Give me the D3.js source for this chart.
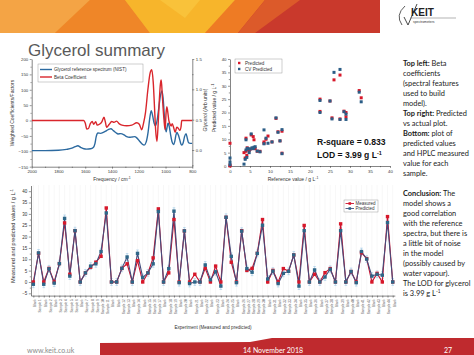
<!DOCTYPE html>
<html><head><meta charset="utf-8">
<script src="https://cdn.jsdelivr.net/npm/d3@7"></script>
<style>
html,body{margin:0;padding:0;background:#fff;}
svg{display:block;}
</style></head>
<body>
<svg id="c" width="474" height="355"></svg>
<script>
// ---------- DATA ----------
// Top-left: glycerol reference spectrum (right axis, arb units) and beta coefficients (left axis)
const glycerolSpectrum = [[2000,-0.01],[1900,-0.01],[1800,-0.005],[1740,0.01],[1700,0.03],[1675,0.055],[1655,0.07],[1635,0.045],[1610,0.02],[1590,0.015],[1560,0.02],[1540,0.04],[1528,0.1],[1518,0.22],[1505,0.28],[1485,0.275],[1465,0.29],[1440,0.32],[1420,0.345],[1408,0.35],[1390,0.32],[1370,0.285],[1355,0.265],[1335,0.27],[1310,0.25],[1290,0.22],[1270,0.21],[1250,0.215],[1230,0.22],[1215,0.2],[1195,0.15],[1175,0.1],[1160,0.08],[1145,0.13],[1130,0.3],[1118,0.52],[1107,0.65],[1095,0.55],[1085,0.44],[1075,0.4],[1062,0.5],[1050,0.7],[1038,0.9],[1027,0.975],[1018,0.85],[1010,0.6],[1002,0.38],[995,0.3],[988,0.38],[982,0.44],[977,0.43],[970,0.36],[962,0.25],[952,0.14],[940,0.09],[930,0.15],[922,0.25],[915,0.29],[905,0.25],[895,0.18],[885,0.1],[877,0.08],[868,0.12],[858,0.22],[847,0.27],[838,0.2],[828,0.12],[815,0.11],[800,0.11]];
const betaCoefficient = [[2000,0],[1700,0],[1612,0],[1600,-8],[1588,-28],[1576,-26],[1562,-10],[1548,-3],[1537,-12],[1522,-4],[1510,-15],[1494,-12],[1476,-4],[1460,11],[1450,-4],[1440,-22],[1422,-13],[1402,-3],[1385,-6],[1366,-2],[1345,-11],[1326,-15],[1290,-17],[1252,-15],[1215,-7],[1196,-12],[1178,-30],[1165,-10],[1150,25],[1132,100],[1115,155],[1103,165],[1092,125],[1082,40],[1074,-30],[1064,-68],[1055,-10],[1046,70],[1038,120],[1032,132],[1024,80],[1012,5],[1003,-30],[996,25],[990,45],[984,30],[975,0],[966,-12],[958,-18],[950,-10],[940,-22],[928,-38],[916,-22],[905,-25],[893,-32],[884,-20],[879,0],[800,0]];
const leftTicks = [-150,-100,-50,0,50,100,150,200];
const rightTicks = [0,0.5,1.0,1.5];
const freqTicks = [2000,1800,1600,1400,1200,1000,800];

// Top-right: predicted vs reference
const scatterRef  = [0,0,0,3.5,3.8,4,4,4.2,4.3,4.5,4.8,5,5.3,5.5,5.8,6,6.3,6.8,7.5,8.5,8.5,9,9.5,10.5,11.5,12,12.5,13,13,22.5,22.5,25,25.5,26,27.5,27.5,28.5,29,29,32.3,32.8];
const scatterPred = [8.5,0,0.3,5,3,10.4,5.5,4,6.8,6.2,5.8,6.3,11.6,6.5,11,9.8,6.5,5.5,5.5,8.5,9,10,11.2,9,17.8,12.8,9.4,13,4.8,25,20.4,24.3,18,32.2,34,17.6,20.5,20,18.4,28.2,25.5];
const scatterCV   = [0.5,3,1.5,0.7,2.5,9.8,6,3.2,6.6,6.5,5,6.3,12,6.8,6.5,7,7.2,5.6,5.3,13.5,8.3,10.4,8.5,9,18,12.6,9.4,13.6,4.6,24.5,20,24.3,17.6,35,36.1,17.4,20.3,19.4,17.4,27.6,24];
const scatterTicks = [0,5,10,15,20,25,30,35,40];

// Bottom: measured and predicted per experiment
const experiments = ["Blank","Sample 1","Blank","Sample 2","Blank","Sample 3","Sample 4","Sample 5","Sample 6","Blank","Sample 7","Sample 8","Sample 9","Sample 10","Sample 11","Blank","Blank","Sample 12","Sample 13","Blank","Sample 14","Blank","Sample 15","Sample 16","Sample 17","Blank","Sample 18","Sample 19","Blank","Sample 20","Blank","Sample 21","Blank","Sample 22","Blank","Sample 23","Blank","Sample 24","Sample 25","Blank","Sample 26","Sample 27","Sample 28","Sample 29","Sample 30","Blank","Sample 31","Blank","Sample 32","Sample 33","Sample 34","Blank","Sample 35","Blank","Sample 36","Blank","Sample 37","Sample 38","Blank","Sample 39","Blank","Sample 40","Blank","Sample 41","Sample 42","Blank","Sample 43","Blank","Sample 44","Blank"];
const measured  = [0,12.6,0,6,0,8.1,26,3.4,22.6,0,4,6.5,8.7,11.3,32.6,0,0,6,8,0,9.4,0,4,10.6,32.2,0,4,27.5,0,22.5,0,3.4,0,6,0,7,0,28.5,8.7,0,22.6,5.1,6,12.6,27.5,0,5.1,0,5.9,4.7,11.9,0,24.9,0,3.4,0,4.1,5.9,0,25.6,0,4.6,0,12.9,10.3,0,3.8,0,28.8,0];
const predicted = [-1,12.8,-1,5.8,-0.5,8.1,28,2.6,22.6,0,4,7,8,13.4,30.4,0,0,6,11,0,12.6,2,4,8,31,0,5.9,31.2,-0.3,22.5,-0.7,0,0,7.5,1,4.5,-1.8,28.5,11.3,-0.3,22.4,5.9,4.3,12.6,25,1.3,4.8,-0.7,3.8,4.7,11.9,-1.8,22.6,0,5.3,0,2.2,5.6,0,22.6,0,4.6,-0.3,13.4,10.1,2.6,3.4,3,26.2,0];
const predictedError = 1.5;
const bottomTicks = [-5,0,5,10,15,20,25,30,35,40];

// ---------- DRAW ----------
const svg = d3.select('#c');
const FONT = 'Liberation Sans, Arial, sans-serif';
const SLIDE = 'Lato, Open Sans, sans-serif';

// Banner
const banner = svg.append('g');
banner.append('rect').attr('x',0).attr('y',0).attr('width',380).attr('height',33).attr('fill','#f39a2e');
const polys = [
  [[[0,0],[90,0],[55,33],[0,33]],'#f4a445'],
  [[[90,0],[125,0],[150,33],[55,33]],'#ef8628'],
  [[[125,0],[235,0],[205,33],[150,33]],'#f7b52b'],
  [[[235,0],[275,0],[245,33],[205,33]],'#ee7b24'],
  [[[160,0],[200,0],[185,18]],'#f9c23a'],
  [[[265,0],[380,0],[380,33],[238,33]],'#c9392c'],
  [[[265,0],[300,0],[255,33],[238,33]],'#dc5a2a']
];
polys.forEach(p=>banner.append('path').attr('d','M'+p[0].map(q=>q.join(',')).join('L')+'Z').attr('fill',p[1]));

// Logo
svg.append('path').attr('d','M405,6 Q395,15 402,25').attr('fill','none').attr('stroke','#333').attr('stroke-width',0.8);
svg.append('path').attr('d','M404,17 L408,25 L417,4').attr('fill','none').attr('stroke','#333').attr('stroke-width',0.9);
svg.append('text').attr('x',411).attr('y',16).attr('font-family',FONT).attr('font-weight','bold').attr('font-size',10).attr('fill','#222').text('KEIT');
svg.append('line').attr('x1',410).attr('x2',456).attr('y1',18).attr('y2',18).attr('stroke','#666').attr('stroke-width',0.5);
svg.append('text').attr('x',413).attr('y',22.5).attr('font-family',FONT).attr('font-size',3.4).attr('fill','#333').text('spectrometers');

// Title
svg.append('text').attr('x',28).attr('y',56).attr('font-family',FONT).attr('font-size',17).attr('fill','#595959').text('Glycerol summary');

function styleAxis(g, fs){
  g.selectAll('path.domain').attr('stroke','#333').attr('stroke-width',0.6);
  g.selectAll('.tick line').attr('stroke','#333').attr('stroke-width',0.5);
  g.selectAll('text').attr('font-size',fs).attr('font-family',FONT).attr('fill','#333');
}
function minorTicks(g, axis){ g.call(axis.tickFormat('').tickSizeOuter(0)); g.select('path.domain').remove(); g.selectAll('.tick line').attr('stroke','#333').attr('stroke-width',0.5); }

// ---- Top-left chart ----
const xF = d3.scaleLinear().domain([2000,800]).range([31.7,192.3]);
const yL = d3.scaleLinear().domain([-150,200]).range([166.7,59]);
const yR = d3.scaleLinear().domain([-0.275,1.5]).range([166.7,59]);
const tl = svg.append('g');
tl.append('clipPath').attr('id','cTL').append('rect').attr('x',31.7).attr('y',59).attr('width',160.6).attr('height',107.7);
const gL = tl.append('g').attr('transform','translate(31.7,0)').call(d3.axisLeft(yL).tickValues(leftTicks).tickSize(2).tickSizeOuter(0).tickPadding(1.5));
styleAxis(gL,4.3);
minorTicks(tl.append('g').attr('transform','translate(31.7,0)'), d3.axisLeft(yL).tickValues([-125,-75,-25,25,75,125,175]).tickSize(1.2));
const gB = tl.append('g').attr('transform','translate(0,166.7)').call(d3.axisBottom(xF).tickValues(freqTicks).tickFormat(d3.format('d')).tickSize(2).tickSizeOuter(0).tickPadding(1.5));
styleAxis(gB,4.3);
minorTicks(tl.append('g').attr('transform','translate(0,166.7)'), d3.axisBottom(xF).tickValues([1900,1700,1500,1300,1100,900]).tickSize(1.2));
const gR = tl.append('g').attr('transform','translate(192.3,0)').call(d3.axisRight(yR).tickValues(rightTicks).tickFormat(d3.format('.1f')).tickSize(2).tickSizeOuter(0).tickPadding(1.5));
styleAxis(gR,4.3);
minorTicks(tl.append('g').attr('transform','translate(192.3,0)'), d3.axisRight(yR).tickValues([-0.25,0.25,0.75,1.25]).tickSize(1.2));

tl.append('path').datum(glycerolSpectrum).attr('clip-path','url(#cTL)')
  .attr('d', d3.line().x(d=>xF(d[0])).y(d=>yR(d[1])).curve(d3.curveMonotoneX))
  .attr('fill','none').attr('stroke','#2c6aa0').attr('stroke-width',1.4);
tl.append('path').datum(betaCoefficient).attr('clip-path','url(#cTL)')
  .attr('d', d3.line().x(d=>xF(d[0])).y(d=>yL(d[1])).curve(d3.curveMonotoneX))
  .attr('fill','none').attr('stroke','#d9262c').attr('stroke-width',1.4);

// legend
tl.append('rect').attr('x',38).attr('y',64).attr('width',105).attr('height',18).attr('fill','#fff').attr('stroke','#888').attr('stroke-width',0.4);
[['Glycerol reference spectrum (NIST)','#2c6aa0',69.5],['Beta Coefficient','#d9262c',77]].forEach(e=>{
  tl.append('line').attr('x1',40).attr('x2',52).attr('y1',e[2]).attr('y2',e[2]).attr('stroke',e[1]).attr('stroke-width',1.4);
  tl.append('text').attr('x',54).attr('y',e[2]+1.6).attr('font-family',FONT).attr('font-size',4.6).attr('fill','#333').text(e[0]);
});
tl.append('text').attr('transform','translate(14,113) rotate(-90)').attr('text-anchor','middle').attr('font-family',FONT).attr('font-size',5).attr('fill','#333').text('Weighted Coefficients/Factors');
tl.append('text').attr('transform','translate(207,110) rotate(-90)').attr('text-anchor','middle').attr('font-family',FONT).attr('font-size',5).attr('fill','#333').text('Glycerol (Arb units)');
const fl = tl.append('text').attr('x',112).attr('y',181).attr('text-anchor','middle').attr('font-family',FONT).attr('font-size',5).attr('fill','#333');
fl.append('tspan').text('Frequency / cm');
fl.append('tspan').attr('dy',-1.8).attr('font-size',3.4).text('-1');

// ---- Top-right scatter ----
const xS = d3.scaleLinear().domain([0,40]).range([230,390]);
const yS = d3.scaleLinear().domain([0,40]).range([166,59]);
const tr = svg.append('g');
const sL = tr.append('g').attr('transform','translate(230,0)').call(d3.axisLeft(yS).tickValues(scatterTicks).tickSize(2).tickSizeOuter(0).tickPadding(1.5));
styleAxis(sL,4.3);
minorTicks(tr.append('g').attr('transform','translate(230,0)'), d3.axisLeft(yS).tickValues([2.5,7.5,12.5,17.5,22.5,27.5,32.5,37.5]).tickSize(1.2));
const sB = tr.append('g').attr('transform','translate(0,166)').call(d3.axisBottom(xS).tickValues(scatterTicks).tickSize(2).tickSizeOuter(0).tickPadding(2));
styleAxis(sB,4.3);
minorTicks(tr.append('g').attr('transform','translate(0,166)'), d3.axisBottom(xS).tickValues([2.5,7.5,12.5,17.5,22.5,27.5,32.5,37.5]).tickSize(1.2));
const ms = 3;
tr.append('g').selectAll('rect').data(scatterRef).join('rect')
  .attr('x',(d,i)=>xS(d)-ms/2).attr('y',(d,i)=>yS(scatterPred[i])-ms/2).attr('width',ms).attr('height',ms).attr('fill','#d7182a');
tr.append('g').selectAll('rect').data(scatterRef).join('rect')
  .attr('x',(d,i)=>xS(d)-ms/2).attr('y',(d,i)=>yS(scatterCV[i])-ms/2).attr('width',ms).attr('height',ms).attr('fill','#2b5d86');
tr.append('rect').attr('x',235).attr('y',59).attr('width',47).attr('height',14).attr('fill','#fff').attr('stroke','#888').attr('stroke-width',0.4);
[['Predicted','#d7182a',63],['CV Predicted','#2b5d86',69]].forEach(e=>{
  tr.append('rect').attr('x',238).attr('y',e[2]-1.2).attr('width',2.4).attr('height',2.4).attr('fill',e[1]);
  tr.append('text').attr('x',245).attr('y',e[2]+1.6).attr('font-family',FONT).attr('font-size',4.6).attr('fill','#333').text(e[0]);
});
const py = tr.append('text').attr('transform','translate(216,108) rotate(-90)').attr('text-anchor','middle').attr('font-family',FONT).attr('font-size',5).attr('fill','#333');
py.append('tspan').text('Predicted value / g L');
py.append('tspan').attr('dy',-1.8).attr('font-size',3.4).text('-1');
const px = tr.append('text').attr('x',293).attr('y',181).attr('text-anchor','middle').attr('font-family',FONT).attr('font-size',5).attr('fill','#333');
px.append('tspan').text('Reference value / g L');
px.append('tspan').attr('dy',-1.8).attr('font-size',3.4).text('-1');
tr.append('text').attr('x',317).attr('y',145).attr('font-family',FONT).attr('font-weight','bold').attr('font-size',8.6).attr('fill','#111').text('R-square = 0.833');
const lod = tr.append('text').attr('x',317).attr('y',157.5).attr('font-family',FONT).attr('font-weight','bold').attr('font-size',8.6).attr('fill','#111');
lod.append('tspan').text('LOD = 3.99 g L');
lod.append('tspan').attr('dy',-3).attr('font-size',5.5).text('-1');

// ---- Bottom chart ----
const xB = d3.scaleLinear().domain([-0.45,69.4]).range([31,394.8]);
const yB = d3.scaleLinear().domain([-6,42.5]).range([295.6,185.5]);
const idx = d3.range(experiments.length);
const bt = svg.append('g');
bt.append('g').selectAll('line').data(idx).join('line')
  .attr('x1',i=>xB(i)).attr('x2',i=>xB(i)).attr('y1',185.5).attr('y2',295.6)
  .attr('stroke','#d8d8d8').attr('stroke-width',0.4).attr('stroke-dasharray','1,1');
const bL = bt.append('g').attr('transform','translate(31,0)').call(d3.axisLeft(yB).tickValues(bottomTicks).tickSize(2.2).tickSizeOuter(0).tickPadding(1.5));
styleAxis(bL,4.5);
minorTicks(bt.append('g').attr('transform','translate(31,0)'), d3.axisLeft(yB).tickValues([-2.5,2.5,7.5,12.5,17.5,22.5,27.5,32.5,37.5]).tickSize(1.2));
const bB = bt.append('g').attr('transform','translate(0,295.6)').call(d3.axisBottom(xB).tickValues(idx).tickFormat(i=>experiments[i]).tickSize(2).tickSizeOuter(0).tickPadding(1.5));
styleAxis(bB,3.2);
bB.selectAll('text').attr('transform','rotate(-90)').attr('text-anchor','end').attr('dx',-3.5).attr('dy',-1.1).attr('fill','#555');
// error bars
const eb = bt.append('g').attr('stroke','#9cc8e6').attr('stroke-width',0.6);
idx.forEach(i=>{
  const x = xB(i), y0 = yB(predicted[i]-predictedError), y1 = yB(predicted[i]+predictedError);
  eb.append('line').attr('x1',x).attr('x2',x).attr('y1',y0).attr('y2',y1);
  eb.append('line').attr('x1',x-1.3).attr('x2',x+1.3).attr('y1',y0).attr('y2',y0);
  eb.append('line').attr('x1',x-1.3).attr('x2',x+1.3).attr('y1',y1).attr('y2',y1);
});
const lineM = d3.line().x((d,i)=>xB(i)).y(d=>yB(d));
bt.append('path').datum(measured).attr('d',lineM).attr('fill','none').attr('stroke','#c8102e').attr('stroke-width',1.1);
bt.append('path').datum(predicted).attr('d',lineM).attr('fill','none').attr('stroke','#434d7c').attr('stroke-width',1.1);
const bs = 3.4;
bt.append('g').selectAll('rect').data(measured).join('rect')
  .attr('x',(d,i)=>xB(i)-bs/2).attr('y',d=>yB(d)-bs/2).attr('width',bs).attr('height',bs).attr('fill','#d7182a');
bt.append('g').selectAll('rect').data(predicted).join('rect')
  .attr('x',(d,i)=>xB(i)-bs/2).attr('y',d=>yB(d)-bs/2).attr('width',bs).attr('height',bs).attr('fill','#2e6688');
// legend
bt.append('rect').attr('x',344).attr('y',200).attr('width',34).attr('height',12).attr('fill','#fff').attr('stroke','#888').attr('stroke-width',0.4);
[['Measured','#c8102e','#d7182a',203.5],['Predicted','#434d7c','#2e6688',208.5]].forEach(e=>{
  bt.append('line').attr('x1',345.5).attr('x2',354).attr('y1',e[3]).attr('y2',e[3]).attr('stroke',e[1]).attr('stroke-width',0.9);
  bt.append('rect').attr('x',348.5).attr('y',e[3]-1.3).attr('width',2.6).attr('height',2.6).attr('fill',e[2]);
  bt.append('text').attr('x',355.5).attr('y',e[3]+1.6).attr('font-family',FONT).attr('font-size',4.5).attr('fill','#333').text(e[0]);
});
const by = bt.append('text').attr('transform','translate(15,236) rotate(-90)').attr('text-anchor','middle').attr('font-family',FONT).attr('font-size',5.6).attr('fill','#333');
by.append('tspan').text('Measured and predicted values / g L');
by.append('tspan').attr('dy',-2).attr('font-size',3.8).text('-1');
bt.append('text').attr('x',213).attr('y',329).attr('text-anchor','middle').attr('font-family',FONT).attr('font-size',4.6).attr('fill','#333').text('Experiment (Measured and predicted)');

// ---- Right text column ----
const notes = [
  [66,'Top left:',' Beta'],[76,'','coefficients'],[86,'','(spectral features'],[96,'','used to build'],[106,'','model).'],
  [116,'Top right:',' Predicted'],[126,'','vs actual plot.'],[136,'Bottom:',' plot of'],[146,'','predicted values'],
  [156,'','and HPLC measured'],[166,'','value for each'],[176,'','sample.'],
  [196,'Conclusion:',' The'],[206,'','model shows a'],[216,'','good correlation'],[226,'','with the reference'],
  [236,'','spectra, but there is'],[246,'','a little bit of noise'],[256,'','in the model'],[266,'','(possibly caused by'],
  [276,'','water vapour).'],[286,'','The LOD for glycerol'],[296,'','is 3.99 g L']
];
notes.forEach(n=>{
  const t = svg.append('text').attr('x',403).attr('y',n[0]).attr('font-family',SLIDE).attr('font-size',7.4).attr('fill','#1a1a1a');
  if(n[1]) t.append('tspan').attr('font-weight','bold').text(n[1]);
  t.append('tspan').text(n[2]);
  if(n[0]===296) t.append('tspan').attr('dy',-3).attr('font-size',4.8).text('-1');
});

// ---- Footer ----
svg.append('path').attr('d','M100,343 L250,342 L272,338 L474,338 L474,355 L100,355 Z').attr('fill','#bf2a2e');
svg.append('text').attr('x',27).attr('y',352.5).attr('font-family',SLIDE).attr('font-size',7).attr('fill','#8a8a8a').text('www.keit.co.uk');
svg.append('text').attr('x',273).attr('y',352.5).attr('text-anchor','middle').attr('font-family',SLIDE).attr('font-size',7).attr('fill','#fff').text('14 November 2018');
svg.append('text').attr('x',448).attr('y',352.5).attr('text-anchor','middle').attr('font-family',SLIDE).attr('font-size',7).attr('fill','#fff').text('27');
</script>
</body></html>
